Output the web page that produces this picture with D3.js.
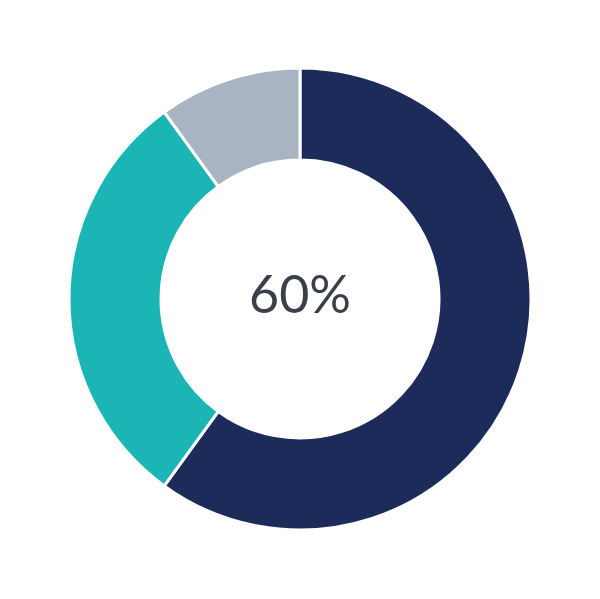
<!DOCTYPE html>
<html>
<head>
<meta charset="utf-8">
<script src="https://cdn.jsdelivr.net/npm/d3@7"></script>
<style>
  body { margin: 0; background: #fff; }
</style>
</head>
<body>
<div id="chart"></div>
<script>
const categories = ['A', 'B', 'C'];
const values = [60, 30, 10];
const colors = ['#1c2b5a', '#1bb5b6', '#a9b4c3'];
const centerLabel = '60%';

const dimensions = { width: 600, height: 599 };
const cx = 300, cy = 299;
const outerRadius = 231;
const innerRadius = 139;

const svg = d3.select('#chart')
    .append('svg')
    .attr('width', dimensions.width)
    .attr('height', dimensions.height);

const graph = svg.append('g')
    .attr('transform', `translate(${cx}, ${cy})`);

const pie = d3.pie().sort(null).value(d => d.value);
const arc = d3.arc().innerRadius(innerRadius).outerRadius(outerRadius);

const data = categories.map((c, i) => ({ name: c, value: values[i] }));

graph.selectAll('path')
    .data(pie(data))
    .enter()
    .append('path')
        .attr('d', arc)
        .attr('fill', (d, i) => colors[i])
        .attr('stroke', '#fff')
        .attr('stroke-width', 3);

// center label
graph.append('text')
    .attr('text-anchor', 'middle')
    .attr('dy', '0.27em')
    .style('font-family', 'Lato, sans-serif')
    .style('font-size', '52px')
    .style('font-weight', 400)
    .style('fill', '#3a3f4b')
    .text(centerLabel);
</script>
</body>
</html>
